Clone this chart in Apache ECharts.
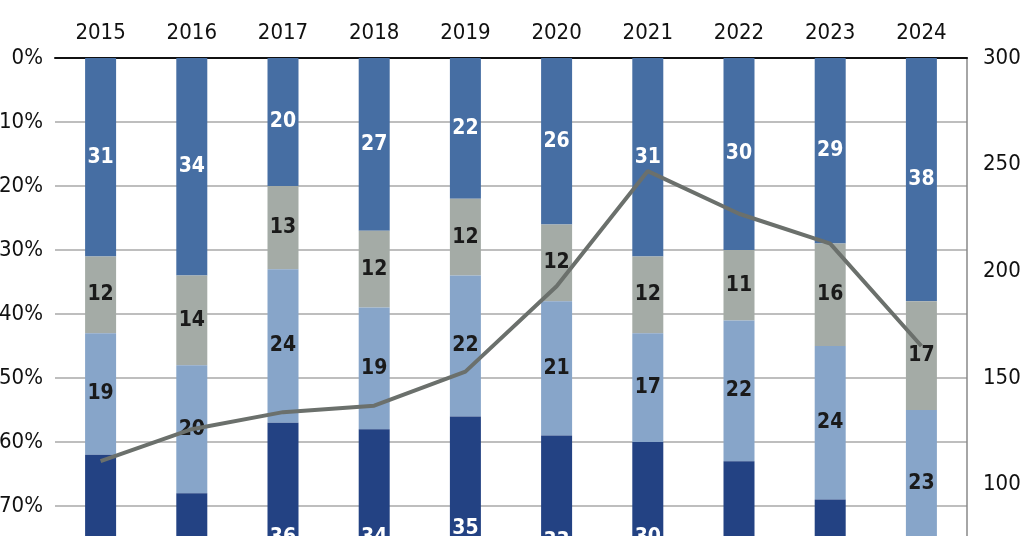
<!DOCTYPE html>
<html>
<head>
<meta charset="utf-8">
<script src="https://cdn.jsdelivr.net/npm/echarts@6/dist/echarts.min.js"></script>
<style>
  html, body { margin: 0; padding: 0; background: #fff; }
  #chart { width: 1024px; height: 536px; }
</style>
</head>
<body>
<div id="chart"></div>
<script>
// years on the top axis
var years = ['2015', '2016', '2017', '2018', '2019', '2020', '2021', '2022', '2023', '2024'];

// stacked shares (%), top to bottom
var shareTop = [31, 34, 20, 27, 22, 26, 31, 30, 29, 38];
var shareGray = [12, 14, 13, 12, 12, 12, 12, 11, 16, 17];
var shareLight = [19, 20, 24, 19, 22, 21, 17, 22, 24, 23];
var shareNavy = [38, 32, 36, 34, 35, 33, 30, 30, 22, 15];

// line on the right axis
var lineValues = [111, 126, 134, 137, 153, 193, 247, 227, 213, 165];

var axisFont = 'Liberation Sans Narrow, DejaVu Sans Condensed, sans-serif';
var labelFont = 'DejaVu Sans Condensed, DejaVu Sans, sans-serif';

var chart = echarts.init(document.getElementById('chart'));

function barSeries(name, data, color, textColor) {
    return {
        name: name,
        type: 'bar',
        stack: 'share',
        data: data,
        barWidth: 31,
        itemStyle: { color: color },
        label: {
            show: true,
            position: 'inside',
            color: textColor,
            fontFamily: labelFont,
            fontWeight: 'bold',
            fontSize: 21
        }
    };
}

chart.setOption({
    animation: false,
    grid: {
        left: 55,
        right: 57,
        top: 58,
        height: 640,
        outerBoundsMode: 'none',
        containLabel: false
    },
    xAxis: {
        type: 'category',
        position: 'top',
        data: years,
        axisLine: { lineStyle: { color: '#111', width: 2 } },
        axisTick: { show: false },
        axisLabel: {
            color: '#111',
            fontFamily: axisFont,
            fontSize: 22,
            margin: 14
        }
    },
    yAxis: [
        {
            type: 'value',
            inverse: true,
            min: 0,
            max: 100,
            interval: 10,
            axisLine: { show: false },
            axisTick: { show: false },
            splitLine: { lineStyle: { color: '#a8a8a8', width: 1.5 } },
            axisLabel: {
                formatter: '{value}%',
                color: '#111',
                fontFamily: axisFont,
                fontSize: 22,
                margin: 12
            }
        },
        {
            type: 'value',
            min: 0,
            max: 300,
            interval: 50,
            position: 'right',
            axisLine: { show: true, lineStyle: { color: '#888', width: 1.5 } },
            axisTick: { show: false },
            splitLine: { show: false },
            axisLabel: {
                color: '#111',
                fontFamily: axisFont,
                fontSize: 22,
                margin: 16
            }
        }
    ],
    series: [
        barSeries('top', shareTop, '#466ea3', '#fff'),
        barSeries('gray', shareGray, '#a4aba6', '#1a1a1a'),
        barSeries('light', shareLight, '#87a5c9', '#1a1a1a'),
        barSeries('navy', shareNavy, '#234283', '#fff'),
        {
            name: 'line',
            type: 'line',
            yAxisIndex: 1,
            data: lineValues,
            showSymbol: false,
            symbol: 'none',
            z: 5,
            lineStyle: { color: '#6b706c', width: 4 }
        }
    ]
});
</script>
</body>
</html>
